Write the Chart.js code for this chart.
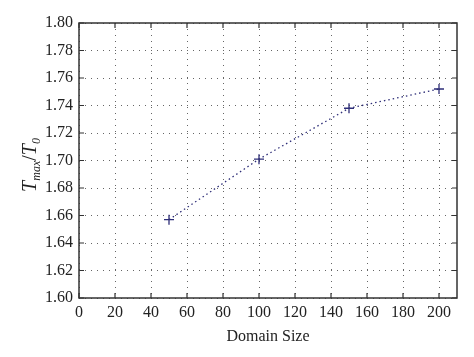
<!DOCTYPE html>
<html>
<head>
<meta charset="utf-8">
<script src="https://cdn.jsdelivr.net/npm/chart.js@4.4.1/dist/chart.umd.min.js"></script>
<style>
  html, body { margin: 0; padding: 0; background: #fff; }
  #wrap { width: 474px; height: 357px; }
</style>
</head>
<body>
<div id="wrap"><canvas id="c" width="474" height="357"></canvas></div>
<script>
// data
var domainSize = [50, 100, 150, 200]
var tRatio = [1.657, 1.701, 1.738, 1.752]
var xTicks = [0, 20, 40, 60, 80, 100, 120, 140, 160, 180, 200]
var yTicks = [1.60, 1.62, 1.64, 1.66, 1.68, 1.70, 1.72, 1.74, 1.76, 1.78, 1.80]

var serif = "'Liberation Serif', 'DejaVu Serif', serif"
var navy = '#2e2e78'

var pts = []
for (var i = 0; i < domainSize.length; i++) pts.push({x: domainSize[i], y: tRatio[i]})

// frame, inner tick marks and the y title with subscripts
var framePlugin = {
  id: 'frame',
  afterDraw: function (chart) {
    var ctx = chart.ctx, a = chart.chartArea
    var xs = chart.scales.x, ys = chart.scales.y
    ctx.save()
    ctx.strokeStyle = '#333'
    ctx.lineWidth = 1.5
    ctx.strokeRect(a.left, a.top, a.right - a.left, a.bottom - a.top)
    ctx.lineWidth = 1.2
    ctx.beginPath()
    xTicks.forEach(function (v) {
      var px = xs.getPixelForValue(v)
      ctx.moveTo(px, a.bottom); ctx.lineTo(px, a.bottom - 5)
      ctx.moveTo(px, a.top); ctx.lineTo(px, a.top + 5)
    })
    yTicks.forEach(function (v) {
      var py = ys.getPixelForValue(v)
      ctx.moveTo(a.left, py); ctx.lineTo(a.left + 5, py)
      ctx.moveTo(a.right, py); ctx.lineTo(a.right - 5, py)
    })
    ctx.stroke()

    // T_max / T_0
    ctx.translate(30, 165)
    ctx.rotate(-Math.PI / 2)
    ctx.fillStyle = '#222'
    ctx.textBaseline = 'alphabetic'
    var big = 'italic 20px ' + serif, small = 'italic 12px ' + serif
    var parts = [['T', big, 0], ['max', small, 4], ['/', '20px ' + serif, 0], ['T', big, 0], ['0', small, 4]]
    var w = 0
    parts.forEach(function (p) { ctx.font = p[1]; w += ctx.measureText(p[0]).width })
    var x = -w / 2
    parts.forEach(function (p) {
      ctx.font = p[1]
      ctx.fillText(p[0], x, 6 + p[2])
      x += ctx.measureText(p[0]).width
    })
    ctx.restore()
  }
}

new Chart(document.getElementById('c'), {
  type: 'scatter',
  data: {
    datasets: [{
      data: pts,
      showLine: true,
      borderColor: navy,
      borderWidth: 1.3,
      borderDash: [1.5, 3],
      pointStyle: 'cross',
      pointRadius: 5,
      pointBorderWidth: 1.3,
      pointBorderColor: navy,
      pointBackgroundColor: navy
    }]
  },
  options: {
    responsive: false,
    animation: false,
    layout: {padding: {left: 0, top: 23, right: 17, bottom: 0}},
    plugins: {legend: {display: false}, tooltip: {enabled: false}},
    scales: {
      x: {
        type: 'linear',
        min: 0,
        max: 210,
        afterBuildTicks: function (s) { s.ticks = xTicks.map(function (v) { return {value: v} }) },
        grid: {color: '#666', lineWidth: 1, drawTicks: false},
        border: {display: false, dash: [1, 5]},
        ticks: {color: '#222', font: {family: serif, size: 16}, padding: 5, maxRotation: 0},
        title: {display: true, text: 'Domain Size', color: '#222', font: {family: serif, size: 16}, padding: {top: 4, bottom: 11}},
        afterFit: function (s) { s.height = 59 }
      },
      y: {
        min: 1.6,
        max: 1.8,
        afterBuildTicks: function (s) { s.ticks = yTicks.map(function (v) { return {value: v} }) },
        grid: {color: '#666', lineWidth: 1, drawTicks: false},
        border: {display: false, dash: [1, 5]},
        ticks: {color: '#222', font: {family: serif, size: 16}, padding: 6,
          callback: function (v) { return v.toFixed(2) }},
        afterFit: function (s) { s.width = 79 }
      }
    }
  },
  plugins: [framePlugin]
})
</script>
</body>
</html>
